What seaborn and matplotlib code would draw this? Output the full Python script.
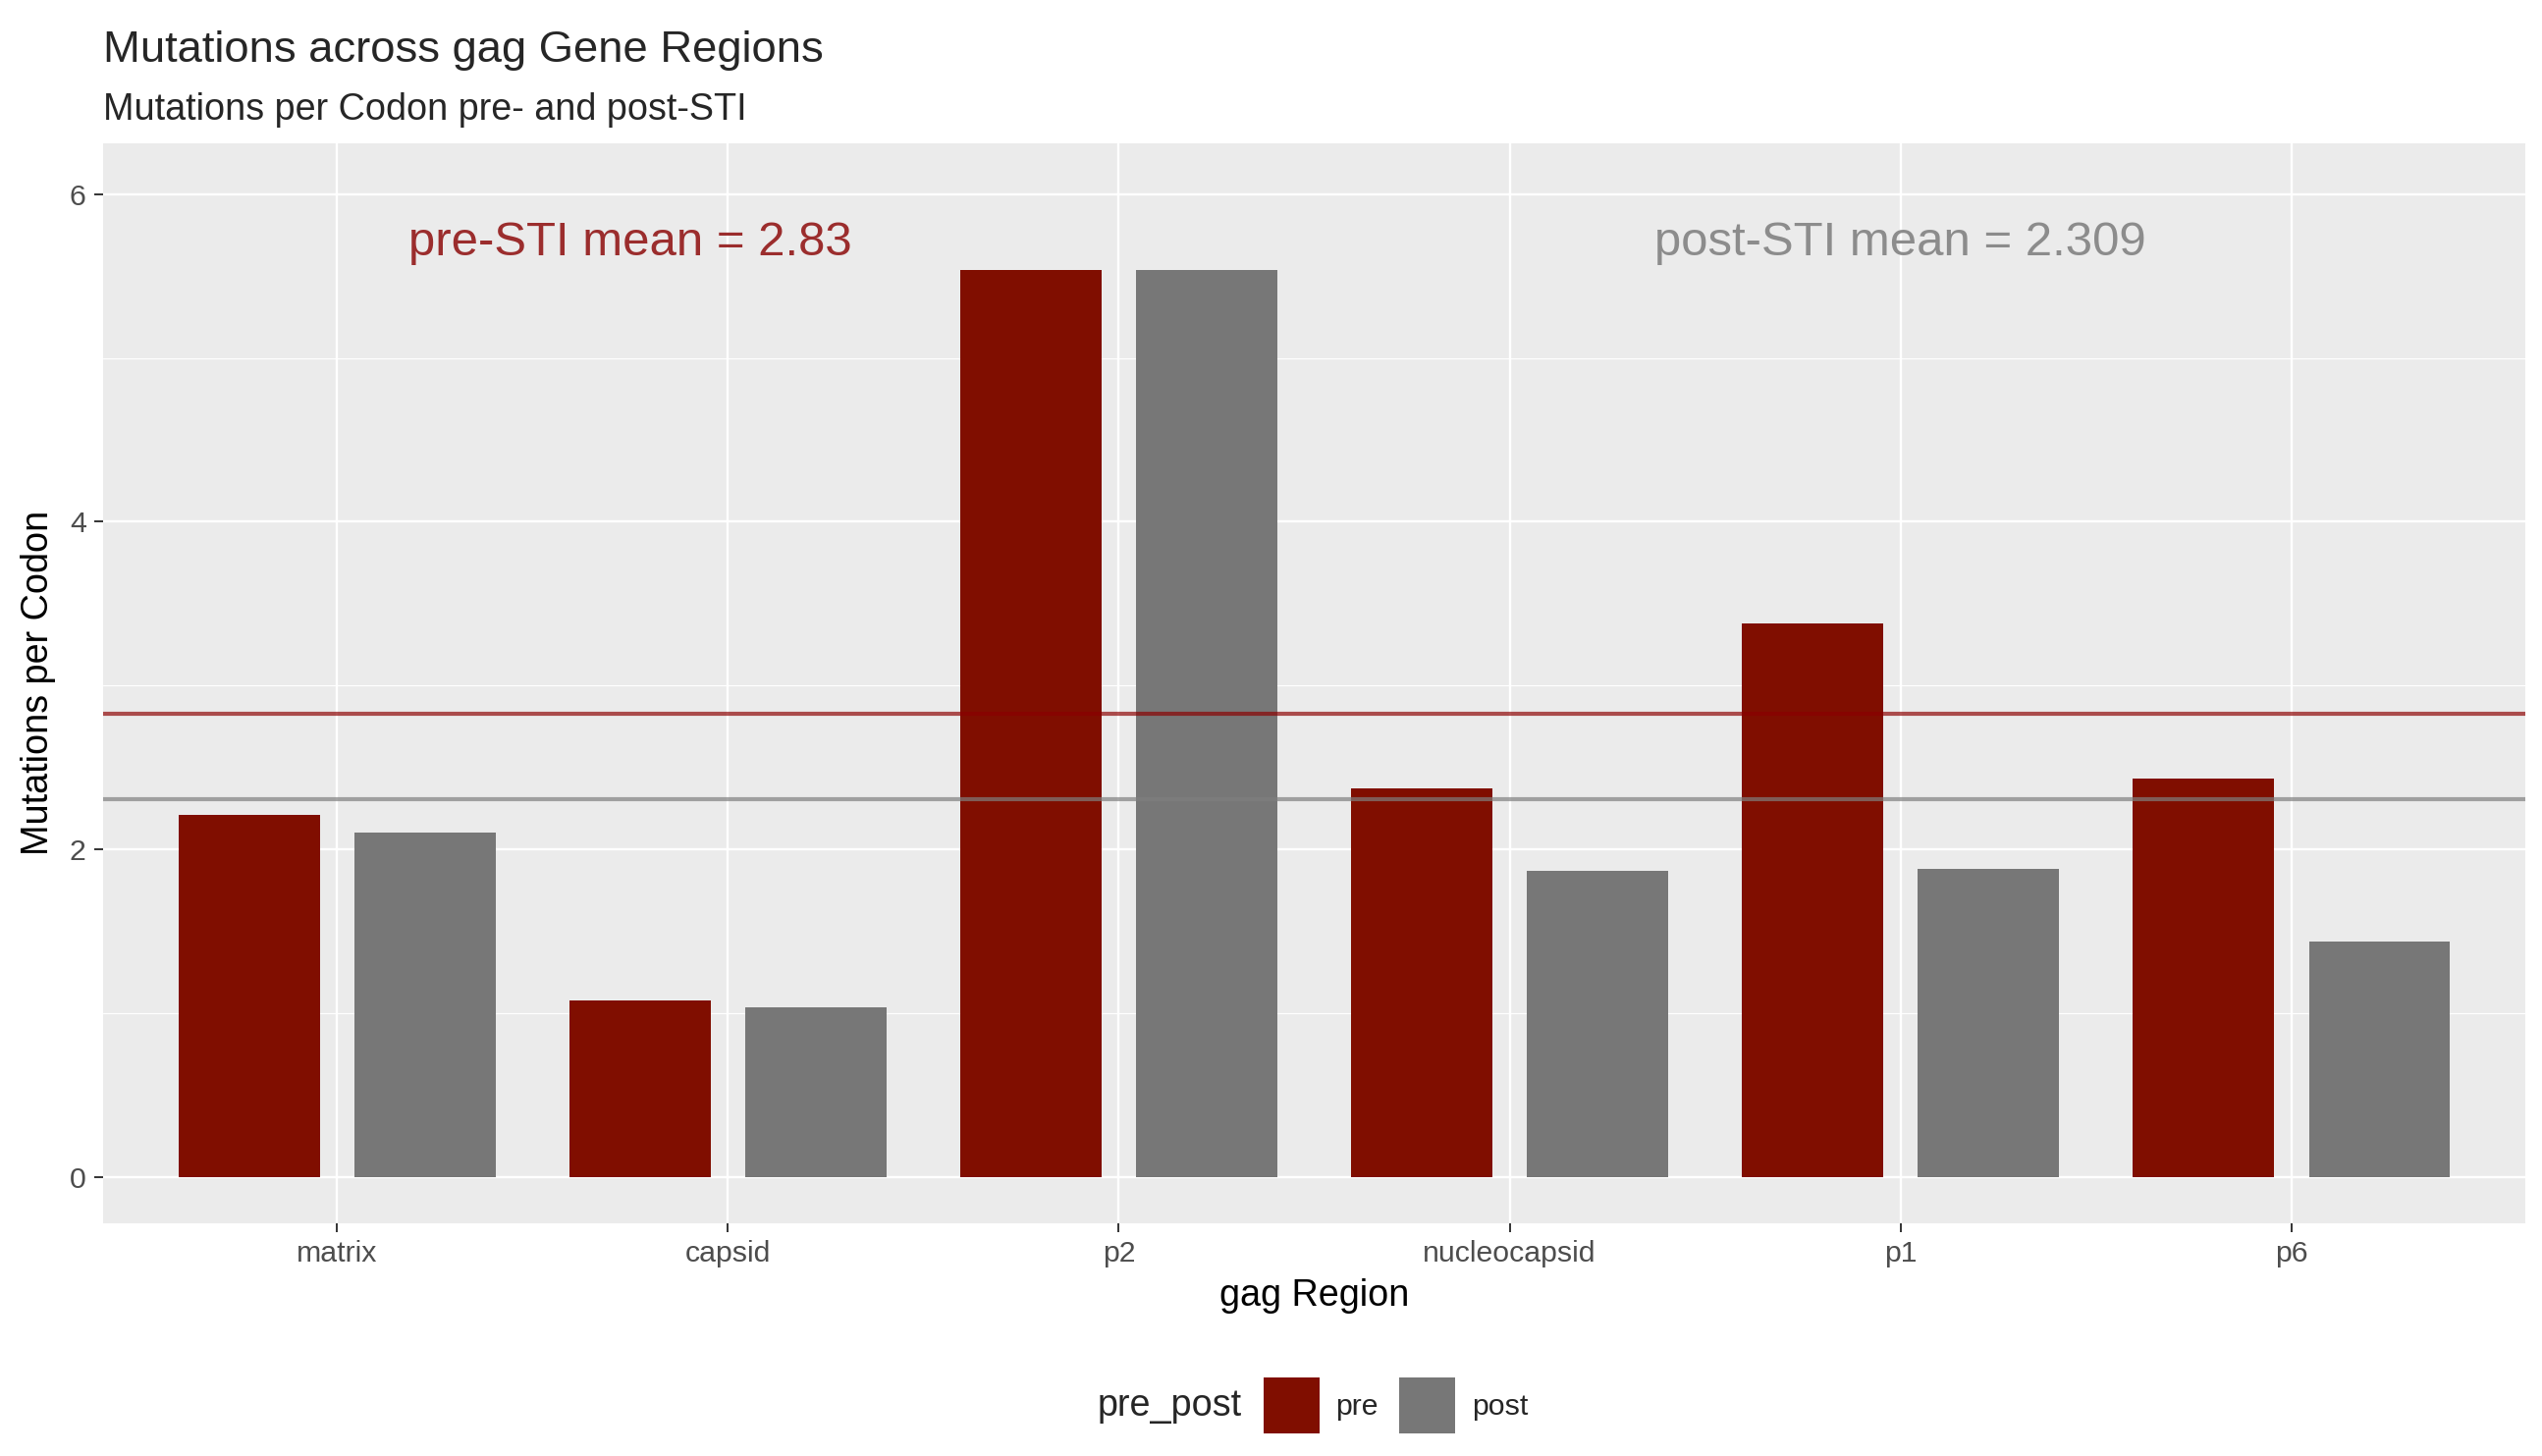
import numpy as np
import pandas as pd
import matplotlib.pyplot as plt
import seaborn as sns
from matplotlib.patches import Patch

# values
regions = ['matrix', 'capsid', 'p2', 'nucleocapsid', 'p1', 'p6']
pre_values = [2.21, 1.075, 5.54, 2.37, 3.38, 2.43]
post_values = [2.10, 1.035, 5.54, 1.87, 1.88, 1.44]
groups = ['pre', 'post']
pre_mean = 2.83
post_mean = 2.309

df = pd.DataFrame({
    'region': regions * 2,
    'value': pre_values + post_values,
    'pre_post': ['pre'] * len(regions) + ['post'] * len(regions),
})

bar_colors = {'pre': '#800E00', 'post': '#777777'}

sns.set_theme(style='darkgrid', rc={'axes.facecolor': '#EBEBEB'})
plt.rcParams['font.family'] = ['Liberation Sans', 'DejaVu Sans']

fig = plt.figure(figsize=(25.89, 14.83), dpi=100)
ax = fig.add_axes([0.0404, 0.1601, 0.9532, 0.7414])

sns.barplot(
    data=df, x='region', y='value', hue='pre_post',
    order=regions, hue_order=groups, palette=bar_colors,
    width=0.9, gap=0.2, saturation=1, errorbar=None,
    legend=False, ax=ax, zorder=2, linewidth=0
)

# mean lines over the bars
ax.axhline(pre_mean, color='#8B0000', alpha=0.68, lw=3, zorder=3)
ax.axhline(post_mean, color='#7F7F7F', alpha=0.7, lw=3, zorder=3)

ax.text(0.75, 5.63, f'pre-STI mean = {pre_mean}', color='#9B2D2D',
        fontsize=35.4, ha='center', va='baseline')
ax.text(4.0, 5.63, f'post-STI mean = {post_mean}', color='#8C8C8C',
        fontsize=35.4, ha='center', va='baseline')

ax.set_xlim(-0.6, 5.6)
ax.set_ylim(-0.28, 6.31)
ax.set_yticks([0, 2, 4, 6])
ax.set_yticks([1, 3, 5], minor=True)
ax.set_axisbelow(True)
ax.grid(which='major', color='white', lw=1.7)
ax.grid(which='minor', axis='y', color='white', lw=0.85)
for s in ax.spines.values():
    s.set_visible(False)
ax.tick_params(axis='both', which='major', length=6.8, width=1.4,
               color='#333333', labelsize=21.8, labelcolor='#4D4D4D', pad=5.4)
ax.tick_params(which='minor', length=0)
ax.tick_params(axis='x', bottom=True)
ax.tick_params(axis='y', left=True)

ax.set_xlabel('gag Region', fontsize=27.2, color='black', labelpad=8)
ax.set_ylabel('Mutations per Codon', fontsize=27.2, color='black', labelpad=10)

fig.text(0.0404, 0.9574, 'Mutations across gag Gene Regions',
         fontsize=32.7, ha='left', va='baseline')
fig.text(0.0404, 0.918, 'Mutations per Codon pre- and post-STI',
         fontsize=27.2, ha='left', va='baseline')

handles = [Patch(facecolor=bar_colors[g], edgecolor='none', label=g) for g in groups]
fig.legend(handles=handles, loc='center', bbox_to_anchor=(0.549, 0.0347),
           ncol=2, frameon=False, fontsize=21.8, handlelength=1.88,
           handleheight=2.55, handletextpad=0.55, columnspacing=0.7,
           borderpad=0)
fig.text(0.4885, 0.0347, 'pre_post', ha='right', va='center', fontsize=27.2)

fig.savefig('out.png', dpi=100)
